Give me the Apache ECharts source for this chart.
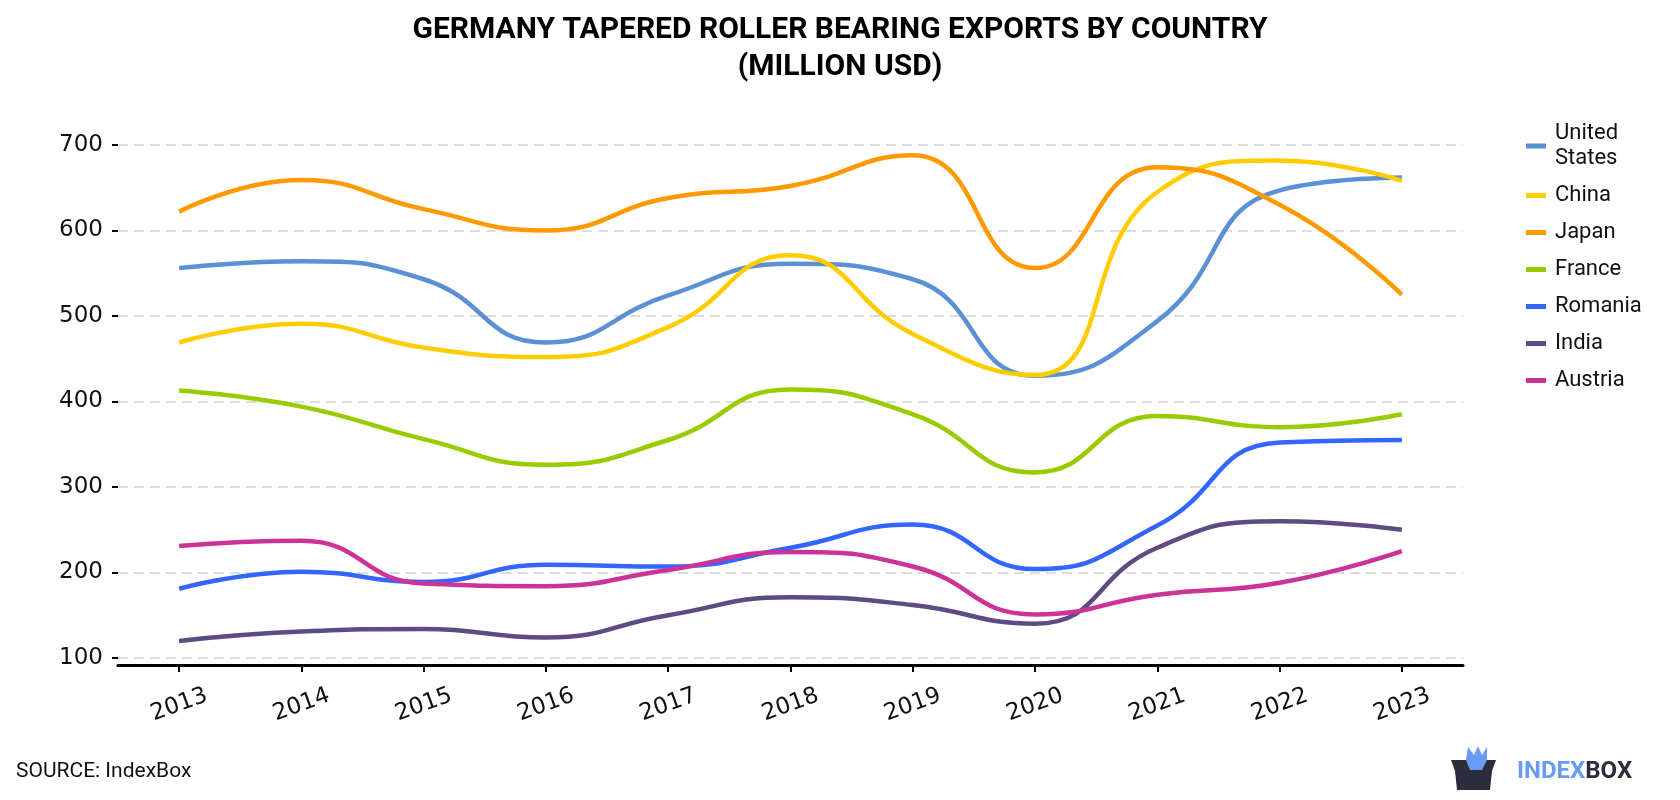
<!DOCTYPE html>
<html>
<head>
<meta charset="utf-8">
<script src="https://cdn.jsdelivr.net/npm/echarts@6/dist/echarts.min.js"></script>
<style>
  html, body { margin: 0; padding: 0; background: #fff; }
  #chart { width: 1680px; height: 800px; }
</style>
</head>
<body>
<div id="chart"></div>
<script>
// years on the x axis
var years = ['2013', '2014', '2015', '2016', '2017', '2018', '2019', '2020', '2021', '2022', '2023'];

// values, million USD
var unitedStates = [556, 564, 543, 469, 524, 561, 543, 430, 494, 647, 662];
var china        = [469, 491, 463, 452, 487, 571, 479, 431, 645, 682, 658];
var japan        = [622, 659, 625, 600, 638, 652, 688, 556, 674, 630, 525];
var france       = [413, 394, 356, 326, 355, 414, 385, 317, 383, 370, 385];
var romania      = [181, 201, 189, 209, 207, 229, 256, 204, 255, 352, 355];
var india        = [120, 131, 134, 124, 150, 171, 162, 140, 229, 260, 250];
var austria      = [231, 237, 187, 184, 203, 224, 207, 151, 174, 188, 225];

var yTicks = [100, 200, 300, 400, 500, 600, 700];

var seriesNames = ['United States', 'China', 'Japan', 'France', 'Romania', 'India', 'Austria'];
var seriesData = [unitedStates, china, japan, france, romania, india, austria];
var colors = ['#5b91d4', '#ffcc00', '#ff9900', '#99cc00', '#3366ff', '#5f4b84', '#cc3399'];

var myChart = echarts.init(document.getElementById('chart'));

var series = [];
for (var i = 0; i < seriesNames.length; i++) {
    series.push({
        name: seriesNames[i],
        type: 'line',
        data: seriesData[i],
        smooth: 0.5,
        symbol: 'none',
        lineStyle: { width: 4.5, color: colors[i] },
        itemStyle: { color: colors[i] }
    });
}

var option = {
    animation: false,
    color: colors,
    title: {
        text: 'GERMANY TAPERED ROLLER BEARING EXPORTS BY COUNTRY\n(MILLION USD)',
        left: 'center',
        top: 7,
        textStyle: {
            fontFamily: 'Roboto',
            fontWeight: 'bold',
            fontSize: 30,
            lineHeight: 37,
            color: '#000'
        }
    },
    legend: {
        orient: 'vertical',
        left: 1521,
        top: 116,
        icon: 'rect',
        itemWidth: 20,
        itemHeight: 5,
        itemGap: 12,
        data: seriesNames,
        formatter: function (name) {
            return name === 'United States' ? 'United\nStates' : name;
        },
        textStyle: {
            fontFamily: 'Roboto',
            fontSize: 22,
            lineHeight: 25,
            color: '#111',
            padding: [0, 0, 0, 4]
        }
    },
    grid: {
        left: 118,
        right: 217,
        top: 145,
        bottom: 142,
        containLabel: false
    },
    xAxis: {
        type: 'category',
        data: years,
        boundaryGap: true,
        offset: 7,
        axisLine: { show: true, lineStyle: { color: '#000', width: 3 } },
        axisTick: { show: true, alignWithLabel: true, length: 7, lineStyle: { color: '#000', width: 2 } },
        axisLabel: {
            rotate: 20,
            align: 'center',
            verticalAlign: 'middle',
            margin: 40,
            fontFamily: 'DejaVu Sans',
            fontSize: 23,
            color: '#111'
        },
        splitLine: { show: false }
    },
    yAxis: {
        type: 'value',
        min: yTicks[0],
        max: yTicks[yTicks.length - 1],
        interval: 100,
        axisLine: { show: false },
        axisTick: { show: true, length: 6, lineStyle: { color: '#000', width: 2 } },
        axisLabel: {
            margin: 15,
            fontFamily: 'DejaVu Sans',
            fontSize: 23,
            color: '#111'
        },
        splitLine: { show: true, lineStyle: { color: '#dddddd', width: 2, type: [10, 6] } }
    },
    graphic: [
        {
            type: 'text',
            left: 16,
            top: 761,
            style: { text: 'SOURCE: IndexBox', font: '21px Roboto', fill: '#111' }
        },
        // logo: bucket + blue crown
        {
            type: 'polygon',
            shape: { points: [[1451, 760], [1496, 760], [1492, 771], [1490, 790], [1457, 790], [1455, 771]] },
            style: { fill: '#2b2d3a' }
        },
        {
            type: 'polygon',
            shape: { points: [[1466, 760], [1468, 747], [1474, 755], [1478, 746], [1482, 755], [1487, 747], [1487, 760], [1482, 770], [1470, 770]] },
            style: { fill: '#6a9bf4' }
        },
        {
            type: 'text',
            left: 1517,
            top: 760,
            style: {
                rich: {
                    a: { fill: '#6a9bf4', font: 'bold 24px Roboto' },
                    b: { fill: '#2b2d3a', font: 'bold 24px Roboto' }
                },
                text: '{a|INDEX}{b|BOX}'
            }
        }
    ],
    series: series
};

myChart.setOption(option);
</script>
</body>
</html>
